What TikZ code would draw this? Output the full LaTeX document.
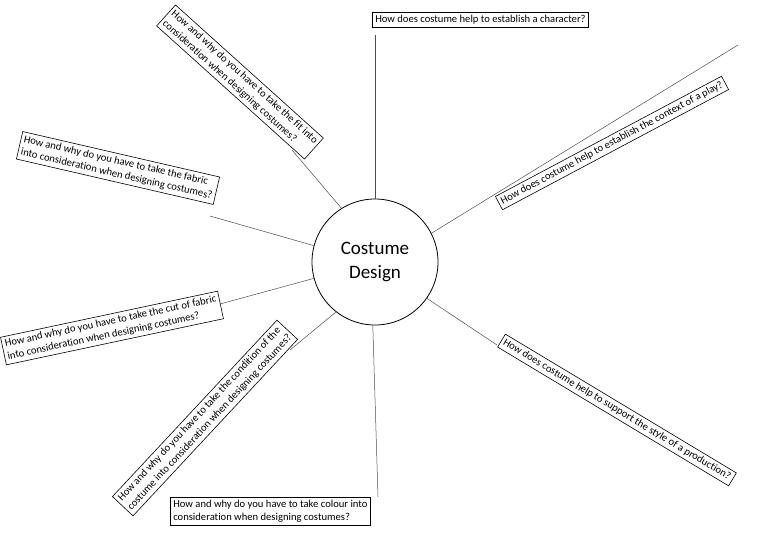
\documentclass[tikz,border=0pt]{standalone}
\usepackage{fontspec}
\setmainfont{Carlito}[Ligatures={NoCommon}]
\begin{document}
\begin{tikzpicture}[x=1pt,y=-1pt,
 q/.style={draw,fill=white,font=\fontsize{10.6}{13}\selectfont,align=left,inner sep=3pt,line width=0.6pt},
 ln/.style={draw=black!70,line width=0.5pt}]
\useasboundingbox (0,0) rectangle (768,543);
\node[circle,draw,line width=0.8pt,minimum size=126pt,font=\fontsize{19}{24}\selectfont,align=center] (c) at (375,262) {Costume\\Design};
% connector end points
\coordinate (eTop) at (375,35);
\coordinate (eTR) at (738,45);
\coordinate (eFit) at (292,150);
\coordinate (eFab) at (210,216);
\coordinate (eCut) at (220,304);
\coordinate (eCon) at (290,350);
\coordinate (eBot) at (378,497);
\coordinate (eSty) at (497,345);
\draw[ln] (c.90) -- (eTop);
\draw[ln] (c.27) -- (eTR);
\draw[ln] (c.122) -- (eFit);
\draw[ln] (c.165) -- (eFab);
\draw[ln] (c.195) -- (eCut);
\draw[ln] (c.232) -- (eCon);
\draw[ln] (c.268) -- (eBot);
\draw[ln] (c.-35) -- (eSty);
% boxes
\node[q,anchor=north west] (b1) at (372,12) {How does costume help to establish a character?};
\node[q,rotate=28] (b2) at (612,143) {How does costume help to establish the context of a play?};
\node[q,rotate=-42] (b3) at (240,82) {How and why do you have to take the fit into\\consideration when designing costumes?};
\node[q,rotate=-13] (b4) at (118,168) {How and why do you have to take the fabric\\into consideration when designing costumes?};
\node[q,rotate=12] (b5) at (112,328) {How and why do you have to take the cut of fabric\\into consideration when designing costumes?};
\node[q,rotate=47] (b6) at (205,418) {How and why do you have to take the condition of the\\costume into consideration when designing costumes?};
\node[q,anchor=north west] (b7) at (170,497) {How and why do you have to take colour into\\consideration when designing costumes?};
\node[q,rotate=-31] (b8) at (617,410) {How does costume help to support the style of a production?};
\end{tikzpicture}
\end{document}
